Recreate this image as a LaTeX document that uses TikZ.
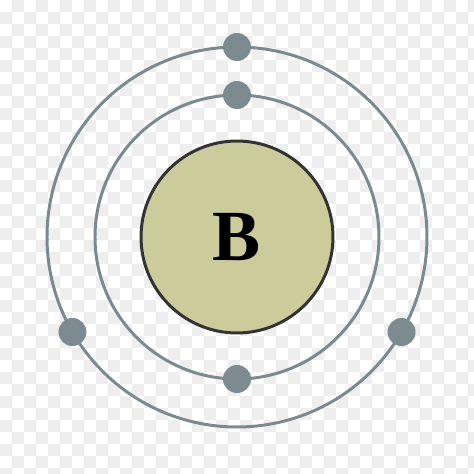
\documentclass[tikz,border=0pt]{standalone}
\usepackage{fontspec}
\setmainfont{Liberation Serif}
\definecolor{orbitgray}{HTML}{7B8A8E}
\definecolor{electrongray}{HTML}{7C8B90}
\definecolor{nucleusfill}{HTML}{CBCB9C}
\definecolor{nucleusline}{HTML}{333333}
\definecolor{checkgray}{HTML}{EEEEEE}
\tikzset{
	orbit/.style={draw=orbitgray, line width=1.7pt},
	electron/.style={circle, fill=electrongray, minimum size=0.56cm, inner sep=0pt},
	nucleus/.style={circle, draw=nucleusline, line width=1.7pt, fill=nucleusfill, minimum size=3.84cm, inner sep=0pt}
}

\begin{document}
\begin{tikzpicture}[x=0.02cm, y=0.02cm]
		\useasboundingbox (-237, -237) rectangle (237, 237);
		\fill [white] (-237, -237) rectangle (237, 237);
		% checkerboard background
		\foreach \i in {0, ..., 39} {
			\foreach \j in {0, ..., 39} {
				\pgfmathparse{int(mod(\i + \j, 2))}
				\ifnum\pgfmathresult=1
					\fill [checkgray] (-237 + 12*\i, 237 - 12*\j) rectangle ++(12, -12);
				\fi
			}
		}
		\draw [orbit] (0, 0) circle (190);
		\draw [orbit] (0, 0) circle (142);
		\node [nucleus] (nuc) at (0, 0) {\fontsize{41}{41}\selectfont\bfseries B};
		% inner shell
		\node [electron] (e1) at (90:142) {};
		\node [electron] (e2) at (270:142) {};
		% outer shell
		\node [electron] (e3) at (90:190) {};
		\node [electron] (e4) at (210:190) {};
		\node [electron] (e5) at (330:190) {};
	\end{tikzpicture}
\end{document}
